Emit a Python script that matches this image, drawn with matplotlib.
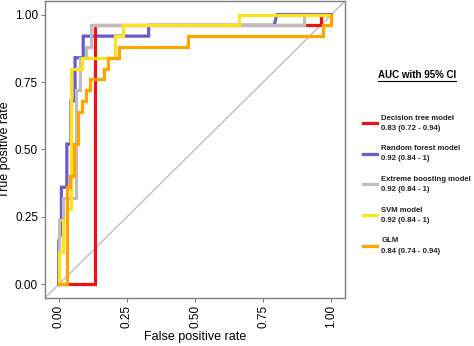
import matplotlib.pyplot as plt
from matplotlib.lines import Line2D

plt.rcParams['font.family'] = ['Liberation Sans', 'DejaVu Sans']

# ROC step curves (false positive rate, true positive rate)
dt_fpr = [0, 0.135, 0.135, 0.96, 0.96, 1.0]
dt_tpr = [0, 0, 0.96, 0.96, 1.0, 1.0]

rf_fpr = [0, 0, 0.01, 0.01, 0.03, 0.03, 0.045, 0.045, 0.06, 0.06, 0.09, 0.09, 0.33, 0.33, 0.79, 0.80, 1.0]
rf_tpr = [0, 0.16, 0.2, 0.36, 0.36, 0.52, 0.52, 0.68, 0.68, 0.84, 0.84, 0.92, 0.92, 0.96, 0.96, 1.0, 1.0]

xgb_fpr = [0, 0, 0.015, 0.015, 0.065, 0.065, 0.08, 0.08, 0.1, 0.1, 0.12, 0.12, 0.9, 0.9, 1.0]
xgb_tpr = [0, 0.24, 0.24, 0.32, 0.32, 0.72, 0.72, 0.84, 0.84, 0.88, 0.88, 0.96, 0.96, 1.0, 1.0]

svm_fpr = [0, 0, 0.015, 0.015, 0.03, 0.03, 0.045, 0.045, 0.085, 0.085, 0.205, 0.205, 0.237, 0.237, 0.66, 0.66, 1.0]
svm_tpr = [0, 0.12, 0.12, 0.24, 0.24, 0.28, 0.28, 0.80, 0.80, 0.84, 0.84, 0.92, 0.92, 0.96, 0.96, 1.0, 1.0]

glm_fpr = [0, 0.03, 0.03, 0.04, 0.04, 0.055, 0.055, 0.07, 0.07, 0.085, 0.085, 0.1, 0.1, 0.115, 0.115,
           0.165, 0.165, 0.18, 0.18, 0.22, 0.22, 0.475, 0.475, 0.97, 0.97, 1.0, 1.0]
glm_tpr = [0, 0, 0.36, 0.36, 0.40, 0.40, 0.52, 0.52, 0.64, 0.64, 0.68, 0.68, 0.72, 0.72, 0.76,
           0.76, 0.80, 0.80, 0.84, 0.84, 0.88, 0.88, 0.92, 0.92, 0.96, 0.96, 1.0]

models = ["Decision tree model", "Random forest model", "Extreme boosting model", "SVM model", "GLM"]
auc_labels = ["0.83 (0.72 - 0.94)", "0.92 (0.84 - 1)", "0.92 (0.84 - 1)", "0.92 (0.84 - 1)", "0.84 (0.74 - 0.94)"]
colors = ["#EE1111", "#6A5ACD", "#BEBEBE", "#FFE31A", "#FFA500"]

curves = [(dt_fpr, dt_tpr), (rf_fpr, rf_tpr), (xgb_fpr, xgb_tpr), (svm_fpr, svm_tpr), (glm_fpr, glm_tpr)]
zorders = [3, 2, 4, 5, 6]

fig = plt.figure(figsize=(4.74, 3.46), dpi=100)
ax = fig.add_axes([0.095, 0.139, 0.633, 0.858])

ax.plot([-0.05, 1.05], [-0.05, 1.05], color="#BEBEBE", lw=1.0, zorder=1)

handles = []
for (fx, ty), name, auc, col, z in zip(curves, models, auc_labels, colors, zorders):
    ax.plot(fx, ty, color=col, lw=2.3, zorder=z, solid_joinstyle="miter")
    handles.append(Line2D([], [], color=col, lw=2.3, label=name + "\n" + auc))

ax.set_xlim(-0.05, 1.05)
ax.set_ylim(-0.05, 1.05)
ticks = [0, 0.25, 0.5, 0.75, 1.0]
ax.set_xticks(ticks)
ax.set_yticks(ticks)
ax.set_xticklabels(["%.2f" % t for t in ticks], rotation=90, fontsize=8.5)
ax.set_yticklabels(["%.2f" % t for t in ticks], fontsize=8.5)
ax.tick_params(length=3, color="#7F7F7F", pad=2)
for s in ax.spines.values():
    s.set_color("#7F7F7F")
    s.set_linewidth(1.0)

ax.set_xlabel("False positive rate", fontsize=9, labelpad=2)
ax.set_ylabel("True positive rate", fontsize=9, labelpad=3)

leg = fig.legend(handles=handles, loc="upper left", bbox_to_anchor=(0.760, 0.807),
                 frameon=False, prop={"weight": "bold", "size": 5.6},
                 title="AUC with 95% CI", title_fontproperties={"weight": "bold", "size": 7},
                 handlelength=1.8, handletextpad=0.5, labelspacing=1.75, borderaxespad=0)
for t in leg.get_texts():
    t.set_linespacing(1.62)
    t.set_color("#222222")
leg._legend_box.sep = 25

# underline the legend title
fig.canvas.draw()
bb = leg.get_title().get_window_extent().transformed(fig.transFigure.inverted())
fig.add_artist(Line2D([bb.x0, bb.x1], [bb.y0 - 0.004, bb.y0 - 0.004], color="black", lw=0.8,
                      transform=fig.transFigure))

fig.savefig("out.png", dpi=100)
